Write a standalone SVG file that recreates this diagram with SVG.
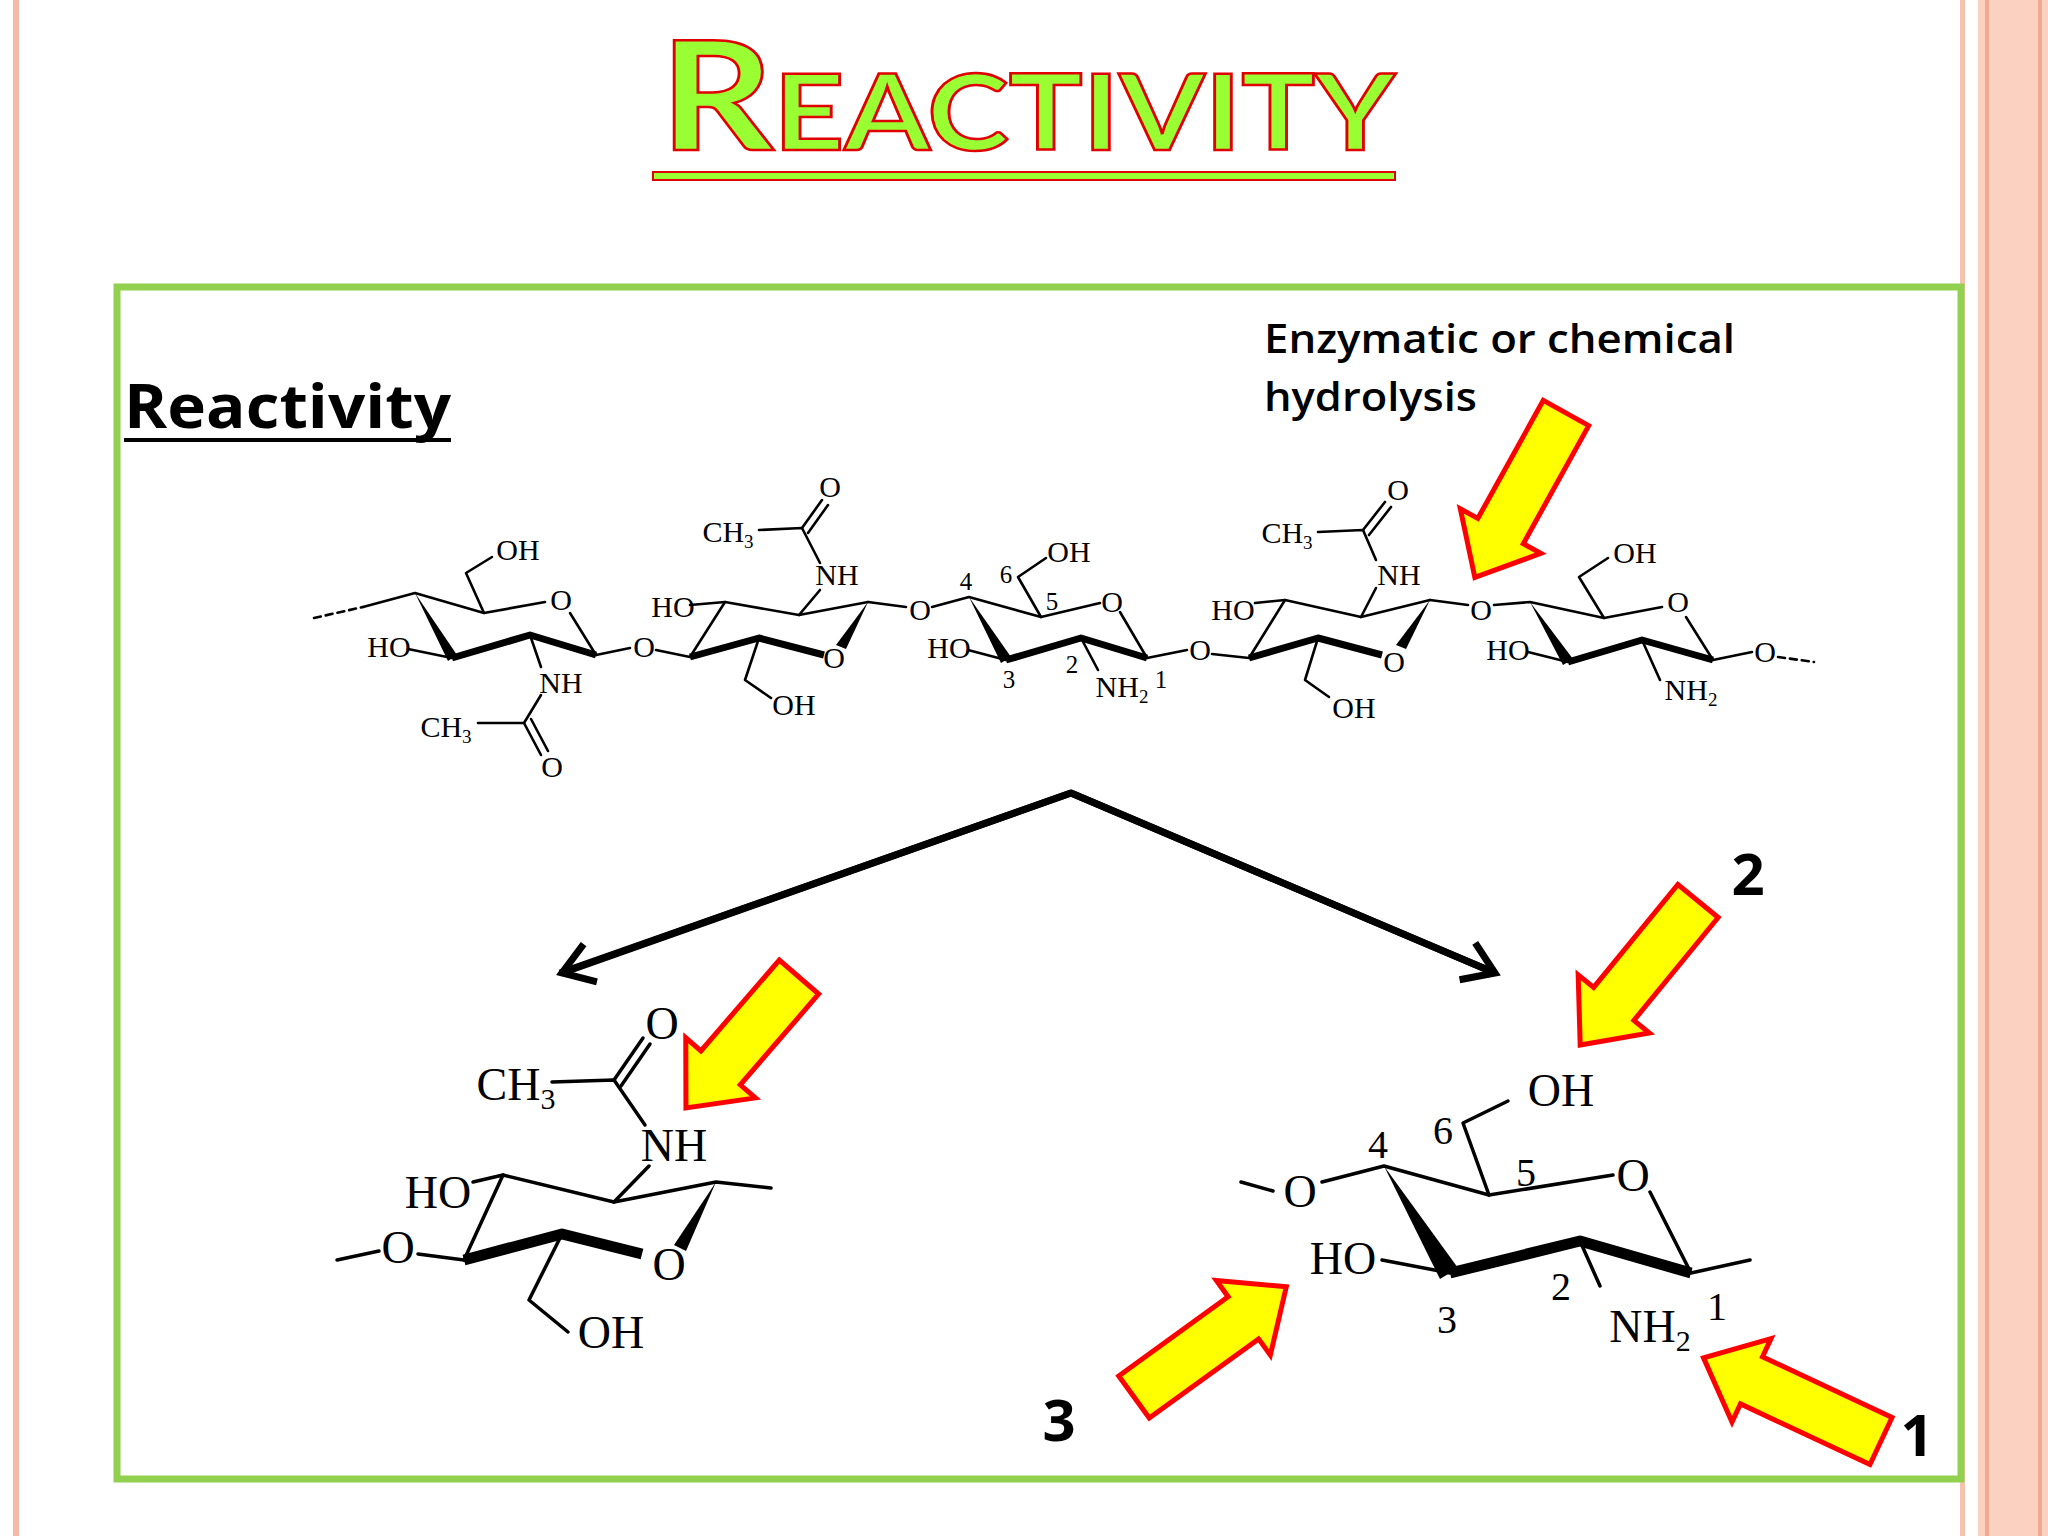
<svg xmlns="http://www.w3.org/2000/svg" width="2048" height="1536" viewBox="0 0 2048 1536">
<style>
.b{stroke:#000;stroke-width:2.6;fill:none;stroke-linecap:round;stroke-linejoin:round}
.bb{stroke:#000;stroke-width:7;fill:none;stroke-linejoin:round}
.B{stroke:#000;stroke-width:3.5;fill:none;stroke-linecap:round;stroke-linejoin:round}
.BB{stroke:#000;stroke-width:11;fill:none;stroke-linejoin:round}
.t{font-family:"Liberation Serif",serif;font-size:30px;text-anchor:middle}
.n{font-family:"Liberation Serif",serif;font-size:25px;text-anchor:middle}
.T{font-family:"Liberation Serif",serif;font-size:46px;text-anchor:middle}
.N{font-family:"Liberation Serif",serif;font-size:40px;text-anchor:middle}
.ya{fill:#ffff00;stroke:#ff0000;stroke-width:5;stroke-linejoin:miter}
.lab{font-family:"Open Sans","Liberation Sans",sans-serif;font-weight:bold;font-size:58px;text-anchor:middle}
</style>
<defs>
<marker id="chev" markerUnits="userSpaceOnUse" markerWidth="60" markerHeight="60" refX="40" refY="25" orient="auto">
<path d="M10,5 L40,25 L10,45" fill="none" stroke="#000" stroke-width="7"/>
</marker>
</defs>
<rect width="2048" height="1536" fill="#fff"/>
<g id="border">
<rect x="13" y="0" width="6" height="1536" fill="#f6b9a6"/>
<rect x="1960" y="0" width="5" height="1536" fill="#f6c2b0"/>
<rect x="1978" y="0" width="70" height="1536" fill="#fbd2c2"/>
<rect x="1985" y="0" width="4" height="1536" fill="#f3a990"/>
<rect x="2038" y="0" width="4" height="1536" fill="#f3a990"/>
</g>
<g id="title">
<text x="660" y="150" textLength="735" lengthAdjust="spacingAndGlyphs" font-family="Lato,'Open Sans','Liberation Sans',sans-serif" font-weight="bold" fill="#99ff33" stroke="#e00000" stroke-width="2.5"><tspan font-size="152">R</tspan><tspan font-size="106">EACTIVITY</tspan></text>
<rect x="653" y="172" width="742" height="8" fill="#99ff33" stroke="#e00000" stroke-width="2"/>
</g>
<rect id="frame" x="117" y="287" width="1844" height="1192" fill="none" stroke="#92d050" stroke-width="7"/>
<g id="heading">
<text x="124" y="428" textLength="327" lengthAdjust="spacingAndGlyphs" font-family="'Open Sans','Liberation Sans',sans-serif" font-weight="bold" font-size="60">Reactivity</text>
<rect x="124" y="438" width="327" height="4" fill="#000"/>
<text x="1264" y="353" textLength="471" lengthAdjust="spacingAndGlyphs" font-family="'Open Sans','Liberation Sans',sans-serif" font-weight="600" font-size="40">Enzymatic or chemical</text>
<text x="1264" y="411" textLength="213" lengthAdjust="spacingAndGlyphs" font-family="'Open Sans','Liberation Sans',sans-serif" font-weight="600" font-size="40">hydrolysis</text>
</g>
<g id="chain">
<polyline class="b" stroke-dasharray="7,5" points="314,618 363,607"/>
<polyline class="b" points="363,607 415,593 484,613 545,602"/>
<polyline class="b" points="570,613 596,655"/>
<polyline class="bb" points="596,655 530,635 452,658"/>
<polygon points="415,593 448,661 457,655"/>
<polyline class="b" points="408,649 452,658"/>
<text class="t" x="389" y="657">HO</text>
<polyline class="b" points="484,613 466,573 492,557"/>
<text class="t" x="518" y="560">OH</text>
<polyline class="b" points="530,635 541,667"/>
<text class="t" x="561" y="693">NH</text>
<polyline class="b" points="541,695 524,723 478,723"/>
<polyline class="b" points="524,723 541,755"/><polyline class="b" points="531,719 548,751"/>
<text class="t" x="446" y="737">CH<tspan font-size="19" dy="6">3</tspan></text>
<text class="t" x="552" y="777">O</text>
<text class="t" x="561" y="610">O</text>
<polyline class="b" points="596,655 630,648"/>
<text class="t" x="644" y="657">O</text>
<polyline class="b" points="656,650 690,657 725,602 799,615 868,602"/>
<polyline class="b" points="690,605 725,602"/>
<text class="t" x="673" y="617">HO</text>
<polygon points="868,602 836,645 846,649"/>
<text class="t" x="834" y="668">O</text>
<polyline class="bb" points="690,657 759,638 824,655"/>
<polyline class="b" points="759,638 745,680 771,698"/>
<text class="t" x="794" y="715">OH</text>
<polyline class="b" points="799,615 820,590"/>
<text class="t" x="837" y="585">NH</text>
<polyline class="b" points="820,563 802,528 759,530"/>
<polyline class="b" points="802,528 822,500"/><polyline class="b" points="808,533 828,505"/>
<text class="t" x="728" y="542">CH<tspan font-size="19" dy="6">3</tspan></text>
<text class="t" x="830" y="497">O</text>
<polyline class="b" points="868,602 906,607"/>
<text class="t" x="920" y="620">O</text>
<polyline class="b" points="932,607 969,597 1041,617 1100,603"/>
<text class="t" x="1112" y="612">O</text>
<polyline class="b" points="1120,612 1147,658"/>
<polyline class="bb" points="1147,658 1081,638 1006,660"/>
<polygon points="969,597 1001,663 1011,657"/>
<polyline class="b" points="968,650 1006,660"/>
<text class="t" x="949" y="658">HO</text>
<polyline class="b" points="1041,617 1018,577 1046,558"/>
<text class="t" x="1069" y="562">OH</text>
<text class="n" x="966" y="590">4</text><text class="n" x="1052" y="610">5</text><text class="n" x="1006" y="583">6</text>
<text class="n" x="1009" y="688">3</text><text class="n" x="1072" y="673">2</text><text class="n" x="1161" y="688">1</text>
<polyline class="b" points="1081,638 1098,670"/>
<text class="t" x="1122" y="697">NH<tspan font-size="19" dy="6">2</tspan></text>
<polyline class="b" points="1147,658 1187,650"/>
<text class="t" x="1200" y="660">O</text>
<polyline class="b" points="1212,654 1249,658 1285,600 1361,617 1430,600"/>
<polyline class="b" points="1255,603 1285,600"/>
<text class="t" x="1233" y="620">HO</text>
<polygon points="1430,600 1396,645 1406,649"/>
<text class="t" x="1394" y="672">O</text>
<polyline class="bb" points="1249,658 1318,638 1382,655"/>
<polyline class="b" points="1318,638 1305,680 1329,697"/>
<text class="t" x="1354" y="718">OH</text>
<polyline class="b" points="1361,617 1376,588"/>
<text class="t" x="1399" y="585">NH</text>
<polyline class="b" points="1376,560 1363,530 1318,532"/>
<polyline class="b" points="1363,530 1385,502"/><polyline class="b" points="1369,535 1391,507"/>
<text class="t" x="1287" y="543">CH<tspan font-size="19" dy="6">3</tspan></text>
<text class="t" x="1398" y="500">O</text>
<polyline class="b" points="1430,600 1468,605"/>
<text class="t" x="1481" y="620">O</text>
<polyline class="b" points="1494,605 1530,602 1604,618 1662,607"/>
<text class="t" x="1678" y="612">O</text>
<polyline class="b" points="1686,617 1713,660"/>
<polyline class="bb" points="1713,660 1642,640 1568,662"/>
<polygon points="1530,602 1563,665 1573,659"/>
<polyline class="b" points="1528,652 1568,662"/>
<text class="t" x="1508" y="660">HO</text>
<polyline class="b" points="1604,618 1579,577 1608,558"/>
<text class="t" x="1635" y="563">OH</text>
<polyline class="b" points="1642,640 1660,680"/>
<text class="t" x="1691" y="700">NH<tspan font-size="19" dy="6">2</tspan></text>
<polyline class="b" points="1713,660 1752,652"/>
<text class="t" x="1765" y="662">O</text>
<polyline class="b" stroke-dasharray="7,5" points="1778,657 1814,662"/>
</g>
<g id="connectors">
<polyline points="560,973 1071,793 1495,973" fill="none" stroke="#000" stroke-width="7" stroke-linejoin="miter"/>
<line x1="1071" y1="793" x2="562" y2="973" stroke="#000" stroke-width="7" marker-end="url(#chev)"/>
<line x1="1071" y1="793" x2="1495" y2="973" stroke="#000" stroke-width="7" marker-end="url(#chev)"/>
</g>
<g id="mol-left">
<text class="T" x="516" y="1100">CH<tspan font-size="30" dy="9">3</tspan></text>
<polyline class="B" points="552,1082 614,1080 645,1125"/>
<polyline class="B" points="614,1080 643,1038"/><polyline class="B" points="621,1086 650,1044"/>
<text class="T" x="662" y="1039">O</text>
<text class="T" x="674" y="1161">NH</text>
<polyline class="B" points="649,1166 614,1202 716,1182 771,1188"/>
<polygon points="716,1182 674,1245 686,1251"/>
<text class="T" x="669" y="1280">O</text>
<polyline class="B" points="614,1202 503,1175 464,1260"/>
<polyline class="B" points="473,1182 503,1175"/>
<text class="T" x="438" y="1208">HO</text>
<polyline class="B" points="418,1254 464,1260"/>
<polyline class="B" points="337,1260 379,1251"/>
<text class="T" x="398" y="1263">O</text>
<polyline class="BB" points="464,1260 562,1234 642,1254"/>
<polyline class="B" points="562,1234 529,1300 568,1332"/>
<text class="T" x="611" y="1348">OH</text>
</g>
<g id="mol-right">
<polyline class="B" points="1241,1182 1273,1191"/>
<text class="T" x="1300" y="1207">O</text>
<polyline class="B" points="1322,1182 1384,1166 1489,1195 1613,1175"/>
<polyline class="B" points="1489,1195 1463,1123 1508,1101"/>
<text class="T" x="1561" y="1106">OH</text>
<text class="T" x="1633" y="1191">O</text>
<polyline class="B" points="1650,1192 1691,1273 1750,1260"/>
<polyline class="BB" points="1691,1273 1580,1241 1450,1273"/>
<polygon points="1384,1166 1440,1279 1458,1268"/>
<polyline class="B" points="1382,1260 1450,1273"/>
<text class="T" x="1343" y="1274">HO</text>
<polyline class="B" points="1580,1241 1600,1286"/>
<text class="T" x="1650" y="1342">NH<tspan font-size="30" dy="9">2</tspan></text>
<text class="N" x="1378" y="1158">4</text><text class="N" x="1526" y="1186">5</text><text class="N" x="1443" y="1144">6</text>
<text class="N" x="1447" y="1333">3</text><text class="N" x="1561" y="1300">2</text><text class="N" x="1717" y="1320">1</text>
</g>
<g id="yellow-arrows">
<polygon class="ya" transform="translate(1566,413) rotate(119)" points="0,-26 135,-26 135,-46 188,0 135,46 135,26 0,26"/>
<polygon class="ya" transform="translate(799,977) rotate(130.8)" points="0,-26 120,-26 120,-46 173,0 120,46 120,26 0,26"/>
<polygon class="ya" transform="translate(1698,901) rotate(129.3)" points="0,-26 133,-26 133,-46 186,0 133,46 133,26 0,26"/>
<polygon class="ya" transform="translate(1134,1397) rotate(-35.9)" points="0,-26 135,-26 135,-46 188,0 135,46 135,26 0,26"/>
<polygon class="ya" transform="translate(1881,1441) rotate(-154.9)" points="0,-26 143,-26 143,-46 196,0 143,46 143,26 0,26"/>
</g>
<g id="labels">
<text class="lab" x="1748" y="895">2</text>
<text class="lab" x="1059" y="1441">3</text>
<text class="lab" x="1917" y="1456">1</text>
</g>
</svg>
